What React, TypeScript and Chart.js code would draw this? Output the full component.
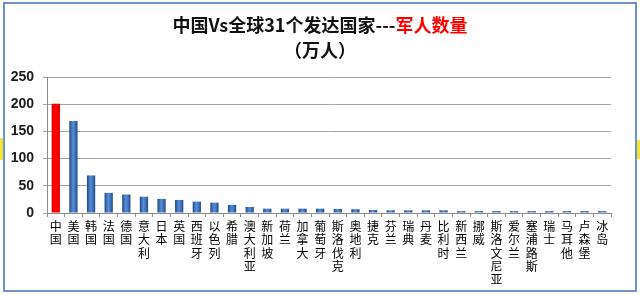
import React, { useEffect, useRef } from "react";
import { Chart, registerables } from "chart.js";

Chart.register(...registerables);

const categories: string[] = [
  "中国", "美国", "韩国", "法国", "德国", "意大利", "日本", "英国", "西班牙", "以色列",
  "希腊", "澳大利亚", "新加坡", "荷兰", "加拿大", "葡萄牙", "斯洛伐克", "奥地利", "捷克", "芬兰",
  "瑞典", "丹麦", "比利时", "新西兰", "挪威", "斯洛文尼亚", "爱尔兰", "塞浦路斯", "瑞士", "马耳他",
  "卢森堡", "冰岛",
];

const soldiers: number[] = [
  201, 169, 69, 37, 34, 30, 26, 24, 21, 19,
  15, 11, 8, 8, 8, 8, 7.5, 7, 5.5, 5,
  5, 5, 5, 3.5, 3.5, 3.5, 3.5, 3.5, 3.5, 3.5,
  3.5, 3.5,
];

const yTicks: number[] = [0, 50, 100, 150, 200, 250];

const titleMain = "中国Vs全球31个发达国家---";
const titleRed = "军人数量";
const titleSub = "（万人）";

const BAR_PCT = 0.47;

export default function App() {
  const canvasRef = useRef<HTMLCanvasElement | null>(null);

  useEffect(() => {
    const canvas = canvasRef.current;
    if (!canvas) return;

    const barColor = (ctx: any) => {
      const isChina = ctx.dataIndex === 0;
      const flat = isChina ? "#ff0000" : "#3a6fb5";
      const chart = ctx.chart;
      if (ctx.type !== "data" || !chart || !chart.scales || !chart.scales.x) return flat;
      const xs = chart.scales.x;
      const cx = xs.getPixelForValue(ctx.dataIndex);
      const half = (xs.width / categories.length) * BAR_PCT / 2;
      if (!isFinite(cx) || !isFinite(half) || half <= 0) return flat;
      const g = chart.ctx.createLinearGradient(cx - half, 0, cx + half, 0);
      if (isChina) {
        g.addColorStop(0, "#c80000");
        g.addColorStop(0.2, "#ff0000");
        g.addColorStop(0.8, "#ff0000");
        g.addColorStop(1, "#c80000");
      } else {
        g.addColorStop(0, "#1d4a86");
        g.addColorStop(0.45, "#5a8fd6");
        g.addColorStop(0.6, "#4a80c8");
        g.addColorStop(1, "#1f4c88");
      }
      return g;
    };

    const chart = new Chart(canvas, {
      type: "bar",
      data: {
        labels: categories.map((c) => Array.from(c)),
        datasets: [
          {
            data: soldiers,
            backgroundColor: barColor,
            borderWidth: 0,
            barPercentage: BAR_PCT,
            categoryPercentage: 1,
          },
        ],
      },
      options: {
        responsive: false,
        animation: false,
        devicePixelRatio: 1,
        layout: { padding: { top: 77, right: 29, left: 0, bottom: 0 } },
        plugins: {
          legend: { display: false },
          title: { display: false },
          tooltip: { enabled: false },
        },
        scales: {
          x: {
            offset: true,
            grid: {
              offset: true,
              drawOnChartArea: false,
              drawTicks: true,
              tickLength: 4,
              color: "#8c8c8c",
            },
            border: { display: true, color: "#8c8c8c", width: 1 },
            ticks: {
              autoSkip: false,
              maxRotation: 0,
              minRotation: 0,
              padding: 3,
              color: "#000000",
              font: { family: "'Noto Sans CJK SC', sans-serif", size: 12, lineHeight: 1.1 },
            },
            afterFit: (scale: any) => {
              scale.height = 83;
            },
          },
          y: {
            min: 0,
            max: 250,
            afterBuildTicks: (scale: any) => {
              scale.ticks = yTicks.map((v) => ({ value: v }));
            },
            grid: {
              color: "#a6a6a6",
              tickLength: 4,
              drawTicks: true,
            },
            border: { display: true, color: "#8c8c8c", width: 1 },
            ticks: {
              padding: 9,
              color: "#1a1a1a",
              font: { family: "'Liberation Sans', Arial, sans-serif", size: 14, weight: "bold" },
            },
            afterFit: (scale: any) => {
              scale.width = 47;
            },
          },
        },
      },
    });

    return () => {
      chart.destroy();
    };
  }, []);

  return (
    <div
      style={{
        position: "fixed",
        left: 0,
        top: 0,
        width: 640,
        height: 296,
        background: "#ffffff",
        overflow: "hidden",
      }}
    >
      <canvas
        ref={canvasRef}
        width={640}
        height={296}
        style={{ position: "absolute", left: 0, top: 0, width: 640, height: 296 }}
      />
      <div
        style={{
          position: "absolute",
          left: 0,
          top: 15,
          width: 640,
          textAlign: "center",
          fontFamily: "'Noto Sans CJK SC', sans-serif",
          fontWeight: "bold",
          fontSize: 18,
          lineHeight: "18px",
          color: "#111111",
          whiteSpace: "nowrap",
        }}
      >
        {titleMain}
        <span style={{ color: "#ff0000" }}>{titleRed}</span>
      </div>
      <div
        style={{
          position: "absolute",
          left: 0,
          top: 40,
          width: 640,
          textAlign: "center",
          fontFamily: "'Noto Sans CJK SC', sans-serif",
          fontWeight: "bold",
          fontSize: 18,
          lineHeight: "18px",
          color: "#111111",
        }}
      >
        {titleSub}
      </div>
      <div
        style={{
          position: "absolute",
          left: 3,
          top: 2,
          width: 634,
          height: 290,
          boxSizing: "border-box",
          border: "2px solid #6d93c6",
          pointerEvents: "none",
        }}
      />
      <div style={{ position: "absolute", left: 0, top: 138, width: 3, height: 22, background: "#f2e634" }} />
      <div style={{ position: "absolute", left: 637, top: 140, width: 3, height: 19, background: "#f2e634" }} />
    </div>
  );
}
